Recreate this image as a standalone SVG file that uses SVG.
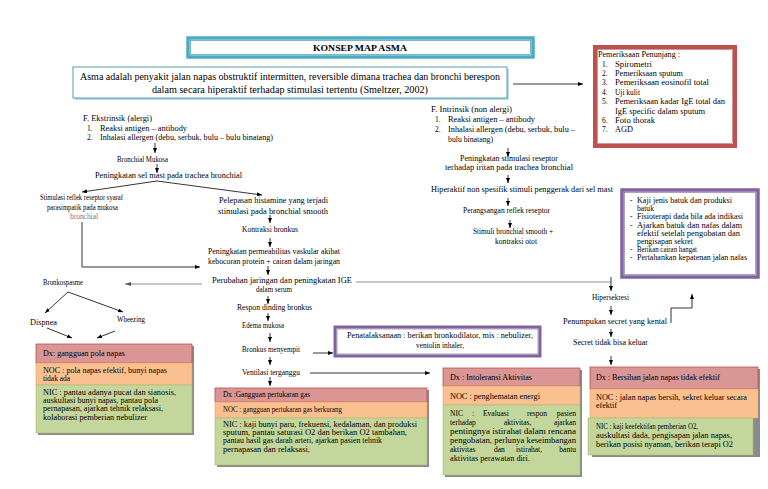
<svg xmlns="http://www.w3.org/2000/svg" width="768" height="489" viewBox="0 0 768 489">
<style>
.t{font-family:"Liberation Serif","Times New Roman",serif;font-size:7.5px;fill:#000}
.d{font-size:9.6px}
.ti{font-size:9px;font-weight:bold}
.ln{stroke:#000;stroke-width:0.8;fill:none}
.gl{stroke:#8c8c8c;stroke-width:1;fill:none}
.red{fill:#d99694;stroke:#c0504d;stroke-width:0.8}
.org{fill:#fac090;stroke:#e6a06a;stroke-width:0.6}
.grn{fill:#c3d69b;stroke:#a6bf74;stroke-width:0.6}
.sh{fill:#8a8a8a}
</style>
<defs>
<marker id="a" markerWidth="5" markerHeight="4" refX="5" refY="2" orient="auto" markerUnits="userSpaceOnUse"><path d="M0,0 L5,2 L0,4 z" fill="#000"/></marker>
<marker id="ag" markerWidth="6" markerHeight="4" refX="6" refY="2" orient="auto" markerUnits="userSpaceOnUse"><path d="M0,0 L6,2 L0,4 z" fill="#555"/></marker>
</defs>
<rect width="768" height="489" fill="#fff"/>

<g id="title">
<rect x="188" y="38" width="345" height="19" fill="#fff" stroke="#4bacc6" stroke-width="3.5"/>
<rect x="190.5" y="40.5" width="340" height="14" fill="none" stroke="#31849b" stroke-width="0.6"/>
<text class="t ti" x="313" y="50.5" textLength="94" lengthAdjust="spacingAndGlyphs">KONSEP MAP ASMA</text>
</g>

<g id="definisi">
<rect x="75" y="69" width="434" height="31" fill="#b6dde8"/>
<rect x="73" y="67" width="434" height="31" fill="#fff" stroke="#31849b" stroke-width="0.8"/>
<text class="t d" x="80" y="80" textLength="420" lengthAdjust="spacingAndGlyphs">Asma adalah penyakit jalan napas obstruktif intermitten, reversible dimana trachea dan bronchi berespon</text>
<text class="t d" x="152" y="93" textLength="276" lengthAdjust="spacingAndGlyphs">dalam secara hiperaktif terhadap stimulasi tertentu (Smeltzer, 2002)</text>
</g>

<g id="penunjang">
<rect x="595" y="47" width="140" height="99" fill="#fff" stroke="#c0504d" stroke-width="4"/>
<rect x="597.5" y="49.5" width="135" height="94" fill="none" stroke="#943634" stroke-width="0.5"/>
<text class="t" x="598" y="57" textLength="82" lengthAdjust="spacingAndGlyphs">Pemeriksaan Penunjang :</text>
<text class="t" x="602" y="67">1.</text><text class="t" x="615" y="67" textLength="37" lengthAdjust="spacingAndGlyphs">Spirometri</text>
<text class="t" x="602" y="76">2.</text><text class="t" x="615" y="76" textLength="68" lengthAdjust="spacingAndGlyphs">Pemeriksaan sputum</text>
<text class="t" x="602" y="85">3.</text><text class="t" x="615" y="85" textLength="94" lengthAdjust="spacingAndGlyphs">Pemeriksaan eosinofil total</text>
<text class="t" x="602" y="95">4.</text><text class="t" x="615" y="95" textLength="25" lengthAdjust="spacingAndGlyphs">Uji kulit</text>
<text class="t" x="602" y="104">5.</text><text class="t" x="615" y="104" textLength="110" lengthAdjust="spacingAndGlyphs">Pemeriksaan kadar IgE total dan</text>
<text class="t" x="615" y="114" textLength="90" lengthAdjust="spacingAndGlyphs">IgE specific dalam sputum</text>
<text class="t" x="602" y="123">6.</text><text class="t" x="615" y="123" textLength="40" lengthAdjust="spacingAndGlyphs">Foto thorak</text>
<text class="t" x="602" y="132">7.</text><text class="t" x="615" y="132" textLength="18" lengthAdjust="spacingAndGlyphs">AGD</text>
</g>

<g id="ekstrinsik">
<text class="t" x="83" y="121" textLength="69" lengthAdjust="spacingAndGlyphs">F. Ekstrinsik (alergi)</text>
<text class="t" x="87" y="131">1.</text><text class="t" x="100" y="131" textLength="87" lengthAdjust="spacingAndGlyphs">Reaksi antigen – antibody</text>
<text class="t" x="87" y="140">2.</text><text class="t" x="100" y="140" textLength="173" lengthAdjust="spacingAndGlyphs">Inhalasi allergen (debu, serbuk, bulu – bulu binatang)</text>
</g>
<g id="bronchial-mukosa"><text class="t" x="117" y="162" textLength="51" lengthAdjust="spacingAndGlyphs">Bronchial Mukosa</text></g>
<g id="sel-mast"><text class="t" x="95" y="178" textLength="147" lengthAdjust="spacingAndGlyphs">Peningkatan sel mast pada trachea bronchial</text></g>
<g id="stimulasi-reflek">
<text class="t" x="40" y="200" textLength="83" lengthAdjust="spacingAndGlyphs">Stimulasi reflek reseptor syaraf</text>
<text class="t" x="47" y="210" textLength="71" lengthAdjust="spacingAndGlyphs">parasimpatik pada mukosa</text>
<text class="t" x="70" y="219" textLength="28" lengthAdjust="spacingAndGlyphs" fill-opacity="0.6">bronchial</text>
</g>
<g id="histamine">
<text class="t" x="219" y="203" textLength="109" lengthAdjust="spacingAndGlyphs">Pelepasan histamine yang terjadi</text>
<text class="t" x="218" y="214" textLength="110" lengthAdjust="spacingAndGlyphs">stimulasi pada bronchial smooth</text>
</g>
<g id="kontraksi"><text class="t" x="242" y="232" textLength="56" lengthAdjust="spacingAndGlyphs">Kontraksi bronkus</text></g>
<g id="permeabilitas">
<text class="t" x="208" y="254" textLength="132" lengthAdjust="spacingAndGlyphs">Peningkatan permeabilitas vaskular akibat</text>
<text class="t" x="208" y="264" textLength="132" lengthAdjust="spacingAndGlyphs">kebocoran protein + cairan dalam jaringan</text>
</g>

<g id="intrinsik">
<text class="t" x="431" y="112" textLength="81" lengthAdjust="spacingAndGlyphs">F. Intrinsik (non alergi)</text>
<text class="t" x="435" y="122">1.</text><text class="t" x="448" y="122" textLength="87" lengthAdjust="spacingAndGlyphs">Reaksi antigen – antibody</text>
<text class="t" x="435" y="132">2.</text><text class="t" x="448" y="132" textLength="127" lengthAdjust="spacingAndGlyphs">Inhalasi allergen (debu, serbuk, bulu –</text>
<text class="t" x="448" y="142" textLength="45" lengthAdjust="spacingAndGlyphs">bulu binatang)</text>
</g>
<g id="stimulasi-reseptor">
<text class="t" x="460" y="161" textLength="98" lengthAdjust="spacingAndGlyphs">Peningkatan stimulasi reseptor</text>
<text class="t" x="445" y="170" textLength="128" lengthAdjust="spacingAndGlyphs">terhadap iritan pada trachea bronchial</text>
</g>
<g id="hiperaktif"><text class="t" x="431" y="192" textLength="182" lengthAdjust="spacingAndGlyphs">Hiperaktif non spesifik stimuli penggerak dari sel mast</text></g>
<g id="perangsangan"><text class="t" x="463" y="213" textLength="87" lengthAdjust="spacingAndGlyphs">Perangsangan reflek reseptor</text></g>
<g id="stimuli-smooth">
<text class="t" x="473" y="234" textLength="80" lengthAdjust="spacingAndGlyphs">Stimuli bronchial smooth +</text>
<text class="t" x="495" y="244" textLength="42" lengthAdjust="spacingAndGlyphs">kontraksi otot</text>
</g>

<g id="intervensi-batuk">
<rect x="622" y="190" width="136" height="87" fill="#fff" stroke="#8064a2" stroke-width="3.5"/>
<rect x="624.5" y="192.5" width="131" height="82" fill="none" stroke="#5f497a" stroke-width="0.5"/>
<text class="t" x="630" y="203">-</text><text class="t" x="637" y="203" textLength="95" lengthAdjust="spacingAndGlyphs">Kaji jenis batuk dan produksi</text>
<text class="t" x="637" y="211" textLength="17" lengthAdjust="spacingAndGlyphs">batuk</text>
<text class="t" x="630" y="219">-</text><text class="t" x="637" y="219" textLength="106" lengthAdjust="spacingAndGlyphs">Fisioterapi dada bila ada indikasi</text>
<text class="t" x="630" y="228">-</text><text class="t" x="637" y="228" textLength="105" lengthAdjust="spacingAndGlyphs">Ajarkan batuk dan nafas dalam</text>
<text class="t" x="637" y="236" textLength="103" lengthAdjust="spacingAndGlyphs">efektif setelah pengobatan dan</text>
<text class="t" x="637" y="244" textLength="56" lengthAdjust="spacingAndGlyphs">pengisapan sekret</text>
<text class="t" x="630" y="252">-</text><text class="t" x="637" y="252" textLength="60" lengthAdjust="spacingAndGlyphs">Berikan cairan hangat</text>
<text class="t" x="630" y="260">-</text><text class="t" x="637" y="260" textLength="110" lengthAdjust="spacingAndGlyphs">Pertahankan kepatenan jalan nafas</text>
</g>

<g id="perubahan-jaringan">
<text class="t" x="212" y="283" textLength="140" lengthAdjust="spacingAndGlyphs">Perubahan jaringan dan peningkatan IGE</text>
<text class="t" x="256" y="292" textLength="36" lengthAdjust="spacingAndGlyphs">dalam serum</text>
</g>
<g id="respon"><text class="t" x="237" y="310" textLength="75" lengthAdjust="spacingAndGlyphs">Respon dinding bronkus</text></g>
<g id="edema"><text class="t" x="242" y="328" textLength="42" lengthAdjust="spacingAndGlyphs">Edema mukosa</text></g>
<g id="bronkus-menyempit"><text class="t" x="242" y="352" textLength="58" lengthAdjust="spacingAndGlyphs">Bronkus menyempit</text></g>
<g id="ventilasi"><text class="t" x="242" y="375" textLength="58" lengthAdjust="spacingAndGlyphs">Ventilasi terganggu</text></g>

<g id="penatalaksanaan">
<rect x="335" y="327" width="205" height="29" fill="#fff" stroke="#8064a2" stroke-width="3"/>
<rect x="337" y="329" width="201" height="25" fill="none" stroke="#5f497a" stroke-width="0.5"/>
<text class="t" x="347" y="338" textLength="186" lengthAdjust="spacingAndGlyphs">Penatalaksanaan : berikan bronkodilator, mis : nebulizer,</text>
<text class="t" x="416" y="348" textLength="48" lengthAdjust="spacingAndGlyphs">ventolin inhaler,</text>
</g>

<g id="bronkospasme"><text class="t" x="43" y="285" textLength="40" lengthAdjust="spacingAndGlyphs">Bronkospasme</text></g>
<g id="dispnea"><text class="t" x="30" y="325" textLength="27" lengthAdjust="spacingAndGlyphs">Dispnea</text></g>
<g id="wheezing"><text class="t" x="117" y="322" textLength="28" lengthAdjust="spacingAndGlyphs">Wheezing</text></g>

<g id="hipersekresi"><text class="t" x="592" y="300" textLength="37" lengthAdjust="spacingAndGlyphs">Hipersekresi</text></g>
<g id="penumpukan"><text class="t" x="563" y="324" textLength="104" lengthAdjust="spacingAndGlyphs">Penumpukan secret yang kental</text></g>
<g id="secret"><text class="t" x="573" y="345" textLength="75" lengthAdjust="spacingAndGlyphs">Secret tidak bisa keluar</text></g>

<g id="dx-pola-napas">
<rect x="38" y="346" width="156" height="89" class="sh"/>
<rect x="36" y="344" width="156" height="19" class="red"/>
<rect x="36" y="363" width="156" height="22" class="org"/>
<rect x="36" y="385" width="156" height="48" class="grn"/>
<text class="t" x="43" y="356" textLength="82" lengthAdjust="spacingAndGlyphs">Dx: gangguan pola napas</text>
<text class="t" x="43" y="373" textLength="124" lengthAdjust="spacingAndGlyphs">NOC : pola napas efektif, bunyi napas</text>
<text class="t" x="43" y="381" textLength="27" lengthAdjust="spacingAndGlyphs">tidak ada</text>
<text class="t" x="43" y="395" textLength="133" lengthAdjust="spacingAndGlyphs">NIC : pantau adanya pucat dan sianosis,</text>
<text class="t" x="43" y="403" textLength="115" lengthAdjust="spacingAndGlyphs">auskultasi bunyi napas, pantau pola</text>
<text class="t" x="43" y="411" textLength="120" lengthAdjust="spacingAndGlyphs">pernapasan, ajarkan tehnik relaksasi,</text>
<text class="t" x="43" y="420" textLength="104" lengthAdjust="spacingAndGlyphs">kolaborasi pemberian nebulizer</text>
</g>

<g id="dx-pertukaran-gas">
<rect x="217" y="390" width="212" height="77" class="sh"/>
<rect x="215" y="388" width="212" height="14" class="red"/>
<rect x="215" y="402" width="212" height="16" class="org"/>
<rect x="215" y="418" width="212" height="47" class="grn"/>
<text class="t" x="223" y="397" textLength="87" lengthAdjust="spacingAndGlyphs">Dx :Gangguan pertukaran gas</text>
<text class="t" x="223" y="412" textLength="119" lengthAdjust="spacingAndGlyphs">NOC : gangguan pertukaran gas berkurang</text>
<text class="t" x="223" y="427" textLength="194" lengthAdjust="spacingAndGlyphs">NIC : kaji bunyi paru, frekuensi, kedalaman, dan produksi</text>
<text class="t" x="223" y="435" textLength="184" lengthAdjust="spacingAndGlyphs">sputum, pantau saturasi O2 dan berikan O2 tambahan,</text>
<text class="t" x="223" y="443" textLength="159" lengthAdjust="spacingAndGlyphs">pantau hasil gas darah arteri, ajarkan pasien tehnik</text>
<text class="t" x="223" y="452" textLength="87" lengthAdjust="spacingAndGlyphs">pernapasan dan relaksasi,</text>
</g>

<g id="dx-intoleransi">
<rect x="445" y="370" width="137" height="107" class="sh"/>
<rect x="443" y="368" width="137" height="18" class="red"/>
<rect x="443" y="386" width="137" height="19" class="org"/>
<rect x="443" y="405" width="137" height="70" class="grn"/>
<text class="t" x="450" y="380" textLength="82" lengthAdjust="spacingAndGlyphs">Dx : Intoleransi Aktivitas</text>
<text class="t" x="450" y="399" textLength="90" lengthAdjust="spacingAndGlyphs">NOC : penghematan energi</text>
<text class="t" y="416"><tspan x="450">NIC</tspan><tspan x="472">:</tspan><tspan x="483">Evaluasi</tspan><tspan x="527">respon</tspan><tspan x="576" text-anchor="end">pasien</tspan></text>
<text class="t" y="425"><tspan x="450">terhadap</tspan><tspan x="504">aktivitas,</tspan><tspan x="576" text-anchor="end">ajarkan</tspan></text>
<text class="t" x="450" y="434" textLength="126" lengthAdjust="spacingAndGlyphs">pentingnya istirahat dalam rencana</text>
<text class="t" x="450" y="443" textLength="126" lengthAdjust="spacingAndGlyphs">pengobatan, perlunya keseimbangan</text>
<text class="t" y="452"><tspan x="450">aktivitas</tspan><tspan x="494">dan</tspan><tspan x="516">istirahat,</tspan><tspan x="576" text-anchor="end">bantu</tspan></text>
<text class="t" x="450" y="461" textLength="80" lengthAdjust="spacingAndGlyphs">aktivitas perawatan diri.</text>
</g>

<g id="dx-bersihan">
<rect x="592" y="369" width="168" height="88" class="sh"/>
<rect x="590" y="367" width="168" height="22" class="red"/>
<rect x="590" y="389" width="168" height="29" class="org"/>
<rect x="588" y="418" width="165" height="37" class="grn"/>
<text class="t" x="596" y="380" textLength="124" lengthAdjust="spacingAndGlyphs">Dx : Bersihan jalan napas tidak efektif</text>
<text class="t" x="596" y="400" textLength="151" lengthAdjust="spacingAndGlyphs">NOC : jalan napas bersih, sekret keluar secara</text>
<text class="t" x="596" y="408" textLength="21" lengthAdjust="spacingAndGlyphs">efektif</text>
<text class="t" x="596" y="429" textLength="102" lengthAdjust="spacingAndGlyphs">NIC : kaji keefektifan pemberian O2,</text>
<text class="t" x="596" y="438" textLength="136" lengthAdjust="spacingAndGlyphs">auskultasi dada, pengisapan jalan napas,</text>
<text class="t" x="596" y="447" textLength="137" lengthAdjust="spacingAndGlyphs">berikan posisi nyaman, berikan terapi O2</text>
</g>

<g id="connectors">
<line class="ln" x1="513" y1="84" x2="583" y2="84" marker-end="url(#a)"/>
<line class="ln" x1="155" y1="143" x2="155" y2="153" marker-end="url(#a)"/>
<line class="ln" x1="157" y1="164" x2="157" y2="173" marker-end="url(#a)"/>
<line class="ln" x1="157" y1="181" x2="82" y2="192" marker-end="url(#a)"/>
<line class="ln" x1="157" y1="181" x2="262" y2="195" marker-end="url(#a)"/>
<line class="ln" x1="270" y1="215" x2="270" y2="223" marker-end="url(#a)"/>
<line class="ln" x1="270" y1="238" x2="270" y2="247" marker-end="url(#a)"/>
<polyline class="ln" points="82,222 82,267 200,267" marker-end="url(#a)"/>
<line class="ln" x1="268" y1="266" x2="268" y2="275" marker-end="url(#a)"/>
<line class="gl" x1="202" y1="284" x2="125" y2="284" marker-end="url(#ag)"/>
<polyline class="gl" points="356,282 611,282"/>
<line class="ln" x1="611" y1="277" x2="611" y2="291" marker-end="url(#a)"/>
<line class="ln" x1="268" y1="296" x2="268" y2="304" marker-end="url(#a)"/>
<line class="ln" x1="268" y1="313" x2="268" y2="321" marker-end="url(#a)"/>
<line class="ln" x1="270" y1="333" x2="270" y2="342" marker-end="url(#a)"/>
<line class="ln" x1="313" y1="353" x2="333" y2="353" marker-end="url(#a)"/>
<line class="ln" x1="270" y1="357" x2="270" y2="365" marker-end="url(#a)"/>
<line class="ln" x1="310" y1="373" x2="430" y2="373" marker-end="url(#a)"/>
<line class="ln" x1="270" y1="377" x2="270" y2="386" marker-end="url(#a)"/>
<line class="ln" x1="68" y1="292" x2="45" y2="313" marker-end="url(#a)"/>
<line class="ln" x1="68" y1="292" x2="123" y2="312" marker-end="url(#a)"/>
<line class="ln" x1="47" y1="328" x2="72" y2="338" marker-end="url(#a)"/>
<line class="ln" x1="115" y1="331" x2="97" y2="338" marker-end="url(#a)"/>
<line class="ln" x1="508" y1="148" x2="508" y2="157" marker-end="url(#a)"/>
<line class="ln" x1="508" y1="175" x2="508" y2="183" marker-end="url(#a)"/>
<line class="ln" x1="508" y1="198" x2="508" y2="206" marker-end="url(#a)"/>
<line class="ln" x1="510" y1="220" x2="510" y2="228" marker-end="url(#a)"/>
<line class="ln" x1="611" y1="306" x2="611" y2="315" marker-end="url(#a)"/>
<line class="ln" x1="611" y1="329" x2="611" y2="337" marker-end="url(#a)"/>
<line class="ln" x1="611" y1="356" x2="611" y2="365" marker-end="url(#a)"/>
<polyline class="ln" points="671,323 671,308 692,308 692,294" marker-end="url(#a)"/>
</g>
</svg>
